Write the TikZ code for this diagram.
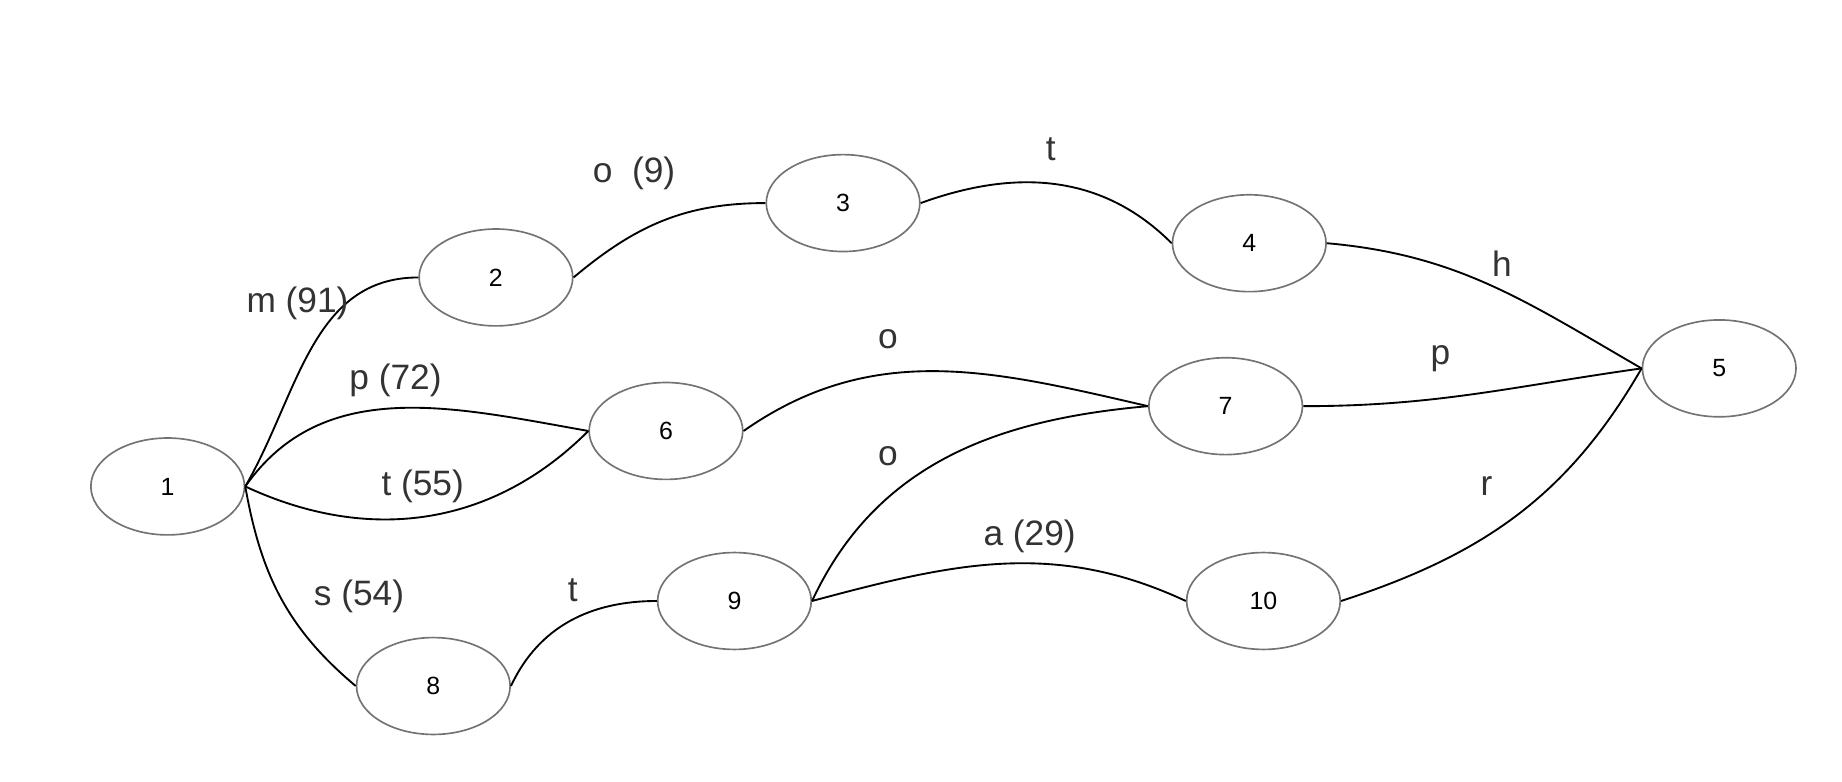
\documentclass[tikz,border=0pt]{standalone}
\usepackage{fontspec}
\setmainfont{Liberation Sans}
\usetikzlibrary{shapes.geometric}
\begin{document}
\begin{tikzpicture}[x=0.01cm,y=-0.01cm,
  st/.style={ellipse,draw=black!55,minimum width=1.3cm,minimum height=0.82cm,inner sep=0pt,font=\fontsize{6}{7}\selectfont},
  lb/.style={font=\fontsize{8.5}{10}\selectfont,text=black!80},
  ed/.style={draw=black,line width=0.45pt}]
\useasboundingbox (0,0) rectangle (1560,662);
\node[st] (n1) at (142,412) {1};
\node[st] (n2) at (420,235) {2};
\node[st] (n3) at (714,172) {3};
\node[st] (n4) at (1058,206) {4};
\node[st] (n5) at (1456,312) {5};
\node[st] (n6) at (564,365) {6};
\node[st] (n7) at (1038,344) {7};
\node[st] (n8) at (367,581) {8};
\node[st] (n9) at (622,509) {9};
\node[st] (n10) at (1070,509) {10};
\draw[ed] (n1.east) to[out=60,in=180] (n2.west);
\draw[ed] (n2.east) to[out=40,in=180] (n3.west);
\draw[ed] (n3.east) to[out=20,in=135] (n4.west);
\draw[ed] (n4.east) to[out=-5,in=150] (n5.west);
\draw[ed] (n1.east) to[out=55,in=170] (n6.west);
\draw[ed] (n1.east) to[out=-25,in=-135] (n6.west);
\draw[ed] (n6.east) to[out=35,in=167] (n7.west);
\draw[ed] (n7.east) to[out=0,in=188] (n5.west);
\draw[ed] (n1.east) to[out=-80,in=140] (n8.west);
\draw[ed] (n8.east) to[out=65,in=180] (n9.west);
\draw[ed] (n9.east) to[out=65,in=185] (n7.west);
\draw[ed] (n9.east) to[out=15,in=155] (n10.west);
\draw[ed] (n10.east) to[out=18,in=240] (n5.west);
\node[lb] (l12) at (252,257) {m (91)};
\node[lb] (l23) at (537,147) {o\ \ (9)};
\node[lb] (l34) at (890,126) {t};
\node[lb] (l45) at (1272,223) {h};
\node[lb] (l16a) at (335,322) {p (72)};
\node[lb] (l16b) at (358,412) {t (55)};
\node[lb] (l67) at (752,287) {o};
\node[lb] (l97) at (752,386) {o};
\node[lb] (l75) at (1220,304) {p};
\node[lb] (l105) at (1259,412) {r};
\node[lb] (l910) at (872,454) {a (29)};
\node[lb] (l18) at (304,505) {s (54)};
\node[lb] (l89) at (485,500) {t};
\end{tikzpicture}
\end{document}
